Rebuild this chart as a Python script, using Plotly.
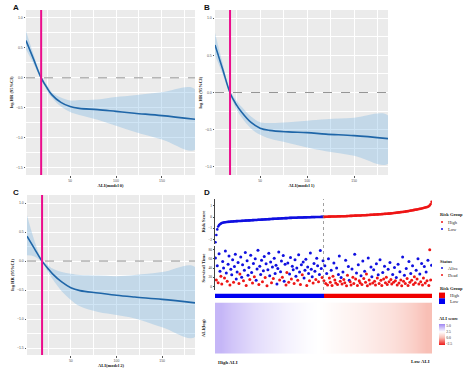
import plotly.graph_objects as go

W, H = 474, 375

# ---------------- Panels A-C : log HR (95%CI) vs ALI ----------------
ali_x = [2, 10, 18.5, 25, 30, 40, 50, 60, 80, 100, 120, 150, 186]
a_loghr = [0.62, 0.32, 0.0, -0.17, -0.28, -0.41, -0.48, -0.51, -0.53, -0.56, -0.59, -0.63, -0.69]
a_upper = [0.78, 0.40, 0.03, -0.12, -0.24, -0.33, -0.38, -0.37, -0.36, -0.32, -0.29, -0.24, -0.19]
a_lower = [0.47, 0.24, -0.03, -0.22, -0.33, -0.48, -0.57, -0.62, -0.70, -0.80, -0.90, -1.03, -1.20]

b_loghr = [0.64, 0.32, -0.02, -0.17, -0.26, -0.40, -0.48, -0.51, -0.53, -0.54, -0.56, -0.58, -0.62]
b_upper = [0.80, 0.40, 0.01, -0.11, -0.19, -0.32, -0.40, -0.41, -0.40, -0.38, -0.36, -0.34, -0.31]
b_lower = [0.50, 0.25, -0.05, -0.23, -0.33, -0.48, -0.57, -0.62, -0.68, -0.74, -0.79, -0.85, -0.96]

c_loghr = [0.43, 0.22, 0.0, -0.13, -0.22, -0.36, -0.46, -0.51, -0.55, -0.59, -0.62, -0.66, -0.72]
c_upper = [0.79, 0.36, 0.02, -0.07, -0.13, -0.19, -0.22, -0.24, -0.25, -0.26, -0.24, -0.19, -0.10]
c_lower = [0.10, 0.08, -0.02, -0.19, -0.31, -0.52, -0.67, -0.78, -0.88, -0.93, -0.99, -1.14, -1.31]

ref_ali = [18.5, 18.0, 18.5]
model_titles = ["ALI(model 0)", "ALI(model 1)", "ALI(model 2)"]
x_ticks = [50, 100, 150]

# ---------------- Panel D : risk score / survival / ALI ----------------
risk_score = [
    -2.25, -1.60, -1.10, -0.85, -0.72, -0.64, -0.58, -0.54, -0.51, -0.49,
    -0.47, -0.46, -0.45, -0.44, -0.43, -0.43, -0.42, -0.41, -0.40, -0.40,
    -0.39, -0.38, -0.38, -0.37, -0.37, -0.36, -0.36, -0.35, -0.35, -0.34,
    -0.34, -0.33, -0.33, -0.32, -0.32, -0.31, -0.31, -0.30, -0.30, -0.29,
    -0.29, -0.28, -0.28, -0.27, -0.27, -0.26, -0.26, -0.25, -0.25, -0.24,
    -0.24, -0.23, -0.23, -0.22, -0.22, -0.21, -0.21, -0.20, -0.20, -0.19,
    -0.19, -0.18, -0.18, -0.17, -0.17, -0.16, -0.16, -0.15, -0.15, -0.14,
    -0.14, -0.13, -0.13, -0.12, -0.12, -0.11, -0.11, -0.10, -0.10, -0.10,
    -0.09, -0.09, -0.08, -0.08, -0.08, -0.07, -0.07, -0.07, -0.06, -0.06,
    -0.06, -0.05, -0.05, -0.05, -0.04, -0.04, -0.04, -0.04, -0.03, -0.03,
    -0.03, -0.03, -0.02, -0.02, -0.02, -0.02, -0.01, -0.01, -0.01, -0.01,
    -0.01, 0.00, 0.00, 0.00, 0.00, 0.00, 0.00, 0.01, 0.01, 0.01,
    0.01, 0.01, 0.02, 0.02, 0.02, 0.03, 0.03, 0.03, 0.04, 0.04,
    0.04, 0.05, 0.05, 0.05, 0.05, 0.06, 0.06, 0.06, 0.06, 0.07,
    0.07, 0.07, 0.07, 0.07, 0.07, 0.08, 0.08, 0.09, 0.09, 0.10,
    0.10, 0.10, 0.11, 0.11, 0.12, 0.12, 0.12, 0.13, 0.13, 0.14,
    0.14, 0.14, 0.15, 0.15, 0.16, 0.16, 0.16, 0.17, 0.17, 0.18,
    0.18, 0.19, 0.19, 0.20, 0.20, 0.21, 0.21, 0.22, 0.22, 0.23,
    0.23, 0.24, 0.24, 0.25, 0.26, 0.26, 0.27, 0.28, 0.28, 0.29,
    0.29, 0.30, 0.30, 0.31, 0.32, 0.33, 0.34, 0.35, 0.36, 0.37,
    0.38, 0.39, 0.40, 0.41, 0.42, 0.43, 0.44, 0.45, 0.46, 0.47,
    0.48, 0.50, 0.51, 0.52, 0.54, 0.55, 0.57, 0.58, 0.60, 0.61,
    0.63, 0.64, 0.66, 0.67, 0.69, 0.71, 0.72, 0.74, 0.76, 0.78,
    0.80, 0.82, 0.84, 0.86, 0.88, 0.91, 0.96, 1.04, 1.16, 1.35,
]
risk_group = ["Low"] * 120 + ["High"] * 120

surv_time = [
    62, 14, 45, 8, 71, 33, 22, 5, 54, 40,
    18, 77, 29, 11, 48, 66, 3, 37, 25, 58,
    9, 43, 70, 16, 31, 52, 6, 27, 64, 20,
    47, 12, 35, 74, 2, 56, 24, 41, 15, 68,
    30, 7, 50, 21, 60, 13, 38, 79, 4, 44,
    26, 57, 10, 34, 65, 19, 49, 1, 36, 72,
    23, 53, 8, 42, 17, 61, 28, 46, 5, 39,
    75, 14, 32, 55, 20, 67, 11, 48, 3, 30,
    51, 9, 27, 63, 16, 44, 36, 6, 58, 22,
    40, 13, 69, 31, 4, 47, 25, 53, 18, 35,
    59, 2, 42, 28, 12, 73, 37, 21, 7, 50,
    33, 15, 61, 45, 10, 26, 78, 39, 19, 56,
    12, 45, 6, 28, 3, 60, 18, 9, 35, 2,
    22, 51, 14, 7, 40, 4, 26, 66, 11, 19,
    5, 31, 15, 8, 57, 1, 24, 43, 13, 10,
    3, 38, 20, 6, 70, 16, 29, 2, 47, 12,
    8, 23, 4, 55, 17, 33, 9, 27, 1, 62,
    14, 5, 42, 21, 7, 36, 11, 3, 49, 18,
    25, 6, 58, 13, 2, 30, 16, 44, 8, 20,
    4, 37, 10, 52, 15, 5, 26, 9, 41, 12,
    19, 3, 48, 7, 32, 14, 1, 64, 11, 24,
    6, 39, 17, 2, 54, 9, 28, 13, 45, 4,
    21, 8, 35, 16, 60, 5, 27, 10, 50, 3,
    18, 43, 7, 31, 12, 57, 2, 80, 14, 46,
]
# 1 = Dead, 0 = Alive
status_code = [
    0, 1, 0, 1, 0, 0, 1, 1, 0, 0,
    1, 0, 0, 1, 0, 0, 1, 0, 0, 0,
    1, 0, 0, 0, 0, 0, 1, 1, 0, 0,
    0, 1, 0, 0, 1, 0, 0, 0, 1, 0,
    0, 1, 0, 1, 0, 0, 0, 0, 1, 0,
    0, 0, 1, 0, 0, 1, 0, 1, 0, 0,
    0, 0, 1, 0, 1, 0, 0, 0, 0, 0,
    0, 1, 0, 0, 1, 0, 0, 0, 1, 1,
    0, 1, 0, 0, 1, 0, 0, 1, 0, 0,
    0, 1, 0, 0, 1, 0, 1, 0, 0, 0,
    0, 1, 0, 0, 1, 0, 0, 0, 1, 0,
    0, 1, 0, 0, 1, 0, 0, 0, 1, 0,
    1, 0, 1, 0, 1, 0, 1, 1, 0, 1,
    1, 0, 1, 1, 0, 1, 0, 0, 1, 0,
    1, 0, 1, 1, 0, 1, 1, 0, 0, 1,
    1, 0, 1, 1, 0, 1, 0, 1, 0, 1,
    1, 0, 1, 0, 1, 0, 1, 1, 1, 0,
    1, 1, 0, 0, 1, 0, 1, 1, 0, 1,
    0, 1, 0, 1, 1, 0, 1, 0, 1, 1,
    1, 0, 1, 0, 1, 1, 0, 1, 0, 1,
    0, 1, 0, 1, 0, 1, 1, 0, 1, 0,
    1, 0, 1, 1, 0, 1, 0, 1, 0, 1,
    1, 1, 0, 1, 0, 1, 0, 1, 0, 1,
    1, 0, 1, 0, 1, 0, 1, 1, 1, 0,
]
status_labels = ["Alive", "Dead"]

# ALI(log) along the ordered samples (heat strip)
ali_log = [4.5, 4.1, 3.8, 3.5, 3.3, 3.1, 2.9, 2.75, 2.6, 2.5,
           2.35, 2.2, 2.05, 1.9, 1.7, 1.5, 1.3, 1.0, 0.6, 0.1]

risk_ticks = [-2, -1, 0, 1]
surv_ticks = [0, 20, 40, 60, 80]
ali_cbar_ticks = [-2.5, 0.0, 2.5, 5.0]

# ---------------- styling ----------------
SERIF = "Liberation Serif"
SANS = "Liberation Sans"
BLUE_LINE = "#1f66a8"
BAND = "rgba(120,180,225,0.35)"
MAGENTA = "#ec0c8c"
PANEL_BG = "#ebebeb"
D_BLUE = "#1010e0"
D_RED = "#ee1616"


def px(x):
    return x / W


def py(y):
    return 1 - y / H


def xd(a, b):
    return [px(a), px(b)]


def yd(top, bottom):
    return [py(bottom), py(top)]


fig = go.Figure()

panels = [
    (a_loghr, a_upper, a_lower, (26, 195), (10, 175), [-1.62, 1.13], [-1.5, -1.0, -0.5, 0.0, 0.5, 1.0]),
    (b_loghr, b_upper, b_lower, (215, 388), (10, 175), [-1.11, 1.11], [-1.0, -0.5, 0.0, 0.5, 1.0]),
    (c_loghr, c_upper, c_lower, (27, 195), (195, 355), [-1.62, 1.14], [-1.5, -1.0, -0.5, 0.0, 0.5, 1.0]),
]

shapes = []
annotations = []

for i, (est, up, lo, (x0, x1), (t, b), yr, yt) in enumerate(panels):
    n = i + 1
    xa = "x" if n == 1 else f"x{n}"
    ya = "y" if n == 1 else f"y{n}"
    fig.add_trace(go.Scatter(
        x=ali_x + ali_x[::-1], y=up + lo[::-1], fill="toself", fillcolor=BAND,
        line=dict(width=0, shape="spline"), mode="lines", hoverinfo="skip",
        showlegend=False, xaxis=xa, yaxis=ya))
    fig.add_trace(go.Scatter(
        x=ali_x, y=est, mode="lines", line=dict(color=BLUE_LINE, width=1.6, shape="spline"),
        showlegend=False, xaxis=xa, yaxis=ya))
    axkey = "xaxis" if n == 1 else f"xaxis{n}"
    aykey = "yaxis" if n == 1 else f"yaxis{n}"
    fig.layout[axkey] = dict(
        domain=xd(x0, x1), anchor=ya, range=[2, 186], tickvals=x_ticks,
        ticks="outside", ticklen=1.5, tickcolor="#555", tickwidth=0.5,
        tickfont=dict(size=3.5, color="#555", family=SANS),
        showgrid=True, gridcolor="white", gridwidth=0.7,
        minor=dict(showgrid=True, gridcolor="white", gridwidth=0.35, dtick=25, tick0=0),
        zeroline=False, showline=False,
        title=dict(text=f"<b>{model_titles[i]}</b>", font=dict(size=4.5, family=SERIF, color="#222"), standoff=1),
    )
    fig.layout[aykey] = dict(
        domain=yd(t, b), anchor=xa, range=yr, tickvals=yt, tickformat=".1f",
        ticks="outside", ticklen=1.5, tickcolor="#555", tickwidth=0.5,
        tickfont=dict(size=3.5, color="#555", family=SANS),
        showgrid=True, gridcolor="white", gridwidth=0.7,
        minor=dict(showgrid=True, gridcolor="white", gridwidth=0.35, dtick=0.25, tick0=0),
        zeroline=False, showline=False,
        title=dict(text="<b>log HR (95%CI)</b>", font=dict(size=4.5, family=SERIF, color="#222"), standoff=2),
    )
    shapes.append(dict(type="rect", xref=f"{xa} domain", yref=f"{ya} domain", x0=0, x1=1, y0=0, y1=1,
                       fillcolor=PANEL_BG, line=dict(width=0), layer="below"))
    shapes.append(dict(type="line", xref=f"{xa} domain", yref=ya, x0=0, x1=1, y0=0, y1=0,
                       line=dict(color="#7a7a7a", width=0.8, dash="dash")))
    shapes.append(dict(type="line", xref=xa, yref=f"{ya} domain", x0=ref_ali[i], x1=ref_ali[i], y0=0, y1=1,
                       line=dict(color=MAGENTA, width=2)))

# ---- Panel D ----
idx = list(range(1, len(risk_score) + 1))
grp_col = [D_BLUE if g == "Low" else D_RED for g in risk_group]
st_col = [D_BLUE if status_labels[s] == "Alive" else D_RED for s in status_code]

fig.add_trace(go.Scatter(x=idx, y=risk_score, mode="markers",
                         marker=dict(color=grp_col, size=2.6, line=dict(width=0)),
                         showlegend=False, xaxis="x4", yaxis="y4"))
fig.add_trace(go.Scatter(x=idx, y=surv_time, mode="markers",
                         marker=dict(color=st_col, size=3.0, line=dict(width=0)),
                         showlegend=False, xaxis="x5", yaxis="y5"))
fig.add_trace(go.Heatmap(x=idx, y=[0], z=[[0 if g == "Low" else 1 for g in risk_group]],
                         colorscale=[[0, "#0000f0"], [0.5, "#0000f0"], [0.5, "#f00000"], [1, "#f00000"]],
                         showscale=False, xaxis="x6", yaxis="y6", hoverinfo="skip"))
fig.add_trace(go.Heatmap(z=[ali_log], y=[0], zmin=-3.0, zmax=5.8, zsmooth="best",
                         colorscale=[[0, "#ee1b1b"], [0.34, "#f8bcb2"], [0.625, "#ffffff"], [1, "#9f86f2"]],
                         xaxis="x7", yaxis="y7", hoverinfo="skip",
                         colorbar=dict(x=px(439), xanchor="left", y=py(329), yanchor="middle",
                                       len=31, lenmode="pixels", thickness=6, thicknessmode="pixels",
                                       outlinewidth=0, xpad=0, ypad=0, ticks="", ticklabelposition="outside",
                                       tickvals=ali_cbar_ticks, ticktext=["-2.5", "0.0", "2.5", "5.0"],
                                       tickfont=dict(size=3.8, family=SERIF, color="#333"),
                                       title=dict(text="<b>ALI score</b>", side="top",
                                                  font=dict(size=4.5, family=SERIF, color="#222")))))

DX = xd(215, 432)
common_hidden_x = dict(domain=DX, showticklabels=False, ticks="", showgrid=False, zeroline=False,
                       showline=False, range=[0.5, len(idx) + 0.5])
fig.layout["xaxis4"] = dict(common_hidden_x, anchor="y4")
fig.layout["xaxis5"] = dict(common_hidden_x, anchor="y5")
fig.layout["xaxis6"] = dict(common_hidden_x, anchor="y6")
fig.layout["xaxis7"] = dict(domain=DX, anchor="y7", showticklabels=False, ticks="", showgrid=False,
                            zeroline=False, showline=False)

dy_axis = dict(showgrid=False, zeroline=False, showline=True, linecolor="#444", linewidth=0.5,
               ticks="outside", ticklen=1.5, tickwidth=0.5, tickcolor="#444",
               tickfont=dict(size=3.5, family=SERIF, color="#333"))
fig.layout["yaxis4"] = dict(dy_axis, domain=yd(199, 244), anchor="x4", range=[-2.4, 1.6], tickvals=risk_ticks,
                            title=dict(text="<b>Risk Score</b>", font=dict(size=4.8, family=SERIF, color="#222"), standoff=2))
fig.layout["yaxis5"] = dict(dy_axis, domain=yd(246, 290), anchor="x5", range=[-8, 88], tickvals=surv_ticks,
                            title=dict(text="<b>Survival Time</b>", font=dict(size=4.8, family=SERIF, color="#222"), standoff=2))
fig.layout["yaxis6"] = dict(domain=yd(293.5, 298), anchor="x6", showticklabels=False, ticks="", showgrid=False,
                            zeroline=False, showline=False)
fig.layout["yaxis7"] = dict(domain=yd(302.5, 354), anchor="x7", showticklabels=False, ticks="", showgrid=False,
                            zeroline=False, showline=False,
                            title=dict(text="<b>ALI(log)</b>", font=dict(size=4.8, family=SERIF, color="#222"), standoff=8))

# dotted split line between risk groups
shapes.append(dict(type="line", xref="x4", yref="paper", x0=120.5, x1=120.5, y0=py(290), y1=py(199),
                   line=dict(color="#777", width=0.7, dash="dot")))


# legends of panel D (drawn as small markers + text)
def ltext(x, y, s, bold=False, size=4.5):
    annotations.append(dict(x=px(x), y=py(y), xref="paper", yref="paper", xanchor="left", yanchor="middle",
                            text=f"<b>{s}</b>" if bold else s, showarrow=False,
                            font=dict(size=size, family=SERIF, color="#222")))


def ldot(x, y, col):
    shapes.append(dict(type="circle", xref="paper", yref="paper", x0=px(x - 1), x1=px(x + 1),
                       y0=py(y + 1), y1=py(y - 1), fillcolor=col, line=dict(width=0)))


ltext(438, 214, "Risk Group", True)
ldot(442, 222, D_RED); ltext(446, 222, "High")
ldot(442, 229, D_BLUE); ltext(446, 229, "Low")
ltext(438, 261, "Status", True)
ldot(442, 268, D_BLUE); ltext(446, 268, "Alive")
ldot(442, 275, D_RED); ltext(446, 275, "Dead")
ltext(438, 288, "Risk Group", True)
shapes.append(dict(type="rect", xref="paper", yref="paper", x0=px(439), x1=px(445), y0=py(298.3), y1=py(292.6),
                   fillcolor="#f00000", line=dict(width=0)))
shapes.append(dict(type="rect", xref="paper", yref="paper", x0=px(439), x1=px(445), y0=py(304), y1=py(298.3),
                   fillcolor="#0000f0", line=dict(width=0)))
ltext(448, 295.5, "High")
ltext(448, 301.5, "Low")

ltext(216, 362, "High ALI", True, 4.8)
annotations.append(dict(x=px(432), y=py(361), xref="paper", yref="paper", xanchor="right", yanchor="middle",
                        text="<b>Low ALI</b>", showarrow=False, font=dict(size=4.8, family=SERIF, color="#222")))

# panel letters
for letter, (lx, ly) in zip("ABCD", [(11, 8), (202, 8), (11, 192), (202, 192)]):
    annotations.append(dict(x=px(lx), y=py(ly), xref="paper", yref="paper", xanchor="left", yanchor="middle",
                            text=f"<b>{letter}</b>", showarrow=False,
                            font=dict(size=8, family=SANS, color="#111")))

fig.update_layout(
    width=W, height=H, margin=dict(l=0, r=0, t=0, b=0),
    paper_bgcolor="white", plot_bgcolor="rgba(0,0,0,0)",
    shapes=shapes, annotations=annotations, showlegend=False,
)

# remove the browser's default 8px body margin so the figure sits at the page origin
fig.write_html("out.html", config={"displayModeBar": False},
               post_script="document.body.style.margin='0px';")
